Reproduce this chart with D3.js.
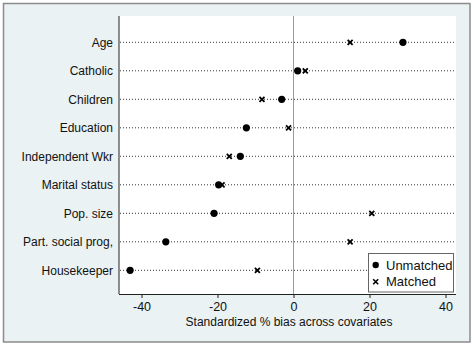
<!DOCTYPE html>
<html>
<head>
<meta charset="utf-8">
<script src="https://cdn.jsdelivr.net/npm/d3@7"></script>
<style>
  html, body { margin: 0; padding: 0; background: #fff; }
  svg { display: block; font-family: "Liberation Sans", Arial, sans-serif; }
</style>
</head>
<body>
<svg id="chart" width="474" height="347"></svg>
<script>
const categories = ["Age", "Catholic", "Children", "Education", "Independent Wkr",
  "Marital status", "Pop. size", "Part. social prog,", "Housekeeper"];
const unmatched = [28.8, 1.1, -3.1, -12.4, -14.0, -19.7, -20.9, -33.6, -43.0];
const matched = [14.9, 3.1, -8.3, -1.3, -16.9, -18.8, 20.6, 14.9, -9.5];
const xTicks = [-40, -20, 0, 20, 40];
const xTitle = "Standardized % bias across covariates";
const legendLabels = ["Unmatched", "Matched"];

const svg = d3.select("#chart");
const W = 474, H = 347;

// outer background and frame
svg.append("rect").attr("x", 0).attr("y", 0).attr("width", W).attr("height", H).attr("fill", "#ffffff");
svg.append("rect").attr("x", 3.5).attr("y", 3.5).attr("width", 466.5).attr("height", 338.5)
  .attr("fill", "#eaf2f3").attr("stroke", "#8c8c8c").attr("stroke-width", 1.5);

const plot = {left: 119, right: 456, top: 16, bottom: 294};
svg.append("rect").attr("x", plot.left).attr("y", plot.top)
  .attr("width", plot.right - plot.left).attr("height", plot.bottom - plot.top)
  .attr("fill", "#ffffff");

const x = d3.scaleLinear().domain([-40, 40]).range([141.5, 445.5]);
const y = d3.scalePoint().domain(categories).range([42.3, 270.3]);

// zero reference line
svg.append("line").attr("x1", x(0)).attr("x2", x(0)).attr("y1", plot.top).attr("y2", plot.bottom)
  .attr("stroke", "#9a9a9a").attr("stroke-width", 1);

// dotted row lines
svg.append("g").selectAll("line").data(categories).join("line")
  .attr("x1", plot.left + 1).attr("x2", 454)
  .attr("y1", d => y(d)).attr("y2", d => y(d))
  .attr("stroke", "#333").attr("stroke-width", 1).attr("stroke-dasharray", "1,2");

// left axis line and labels
svg.append("line").attr("x1", plot.left).attr("x2", plot.left).attr("y1", plot.top).attr("y2", plot.bottom)
  .attr("stroke", "#222").attr("stroke-width", 1);
svg.append("g").selectAll("text").data(categories).join("text")
  .attr("x", 113).attr("y", d => y(d)).attr("dy", "0.35em")
  .attr("text-anchor", "end").attr("font-size", 12).attr("fill", "#111")
  .text(d => d);

// bottom axis
const xAxis = d3.axisBottom(x).tickValues(xTicks).tickSize(4).tickPadding(4).tickFormat(d3.format("d"));
const gx = svg.append("g").attr("transform", `translate(0,${plot.bottom})`).call(xAxis);
gx.select(".domain").attr("d", `M${plot.left},0.5H${plot.right}`).attr("stroke", "#222");
gx.selectAll(".tick line").attr("stroke", "#222");
gx.selectAll(".tick text").attr("font-size", 12.5).attr("fill", "#111")
  .attr("font-family", "Liberation Sans, Arial, sans-serif")
  .text(d => d < 0 ? "-" + Math.abs(d) : d);

svg.append("text").attr("x", 289).attr("y", 326).attr("text-anchor", "middle")
  .attr("font-size", 12).attr("fill", "#111").text(xTitle);

// markers
const cross = d3.symbol().type(d3.symbolX).size(18);
svg.append("g").selectAll("path").data(categories).join("path")
  .attr("d", cross)
  .attr("transform", (d, i) => `translate(${x(matched[i])},${y(d)})`)
  .attr("fill", "none").attr("stroke", "#000").attr("stroke-width", 1.8);
svg.append("g").selectAll("circle").data(categories).join("circle")
  .attr("cx", (d, i) => x(unmatched[i])).attr("cy", d => y(d)).attr("r", 3.6)
  .attr("fill", "#000");

// legend
const lg = svg.append("g");
lg.append("rect").attr("x", 368.5).attr("y", 253.5).attr("width", 85).attr("height", 38.5)
  .attr("fill", "#fff").attr("stroke", "#666").attr("stroke-width", 1);
const ly = [265, 281.7];
lg.append("circle").attr("cx", 375.7).attr("cy", ly[0]).attr("r", 3.2).attr("fill", "#000");
lg.append("path").attr("d", cross).attr("transform", `translate(375.7,${ly[1]})`)
  .attr("fill", "none").attr("stroke", "#000").attr("stroke-width", 1.6);
lg.selectAll("text").data(legendLabels).join("text")
  .attr("x", 386).attr("y", (d, i) => ly[i]).attr("dy", "0.35em")
  .attr("font-size", 13).attr("fill", "#111").text(d => d);
</script>
</body>
</html>
